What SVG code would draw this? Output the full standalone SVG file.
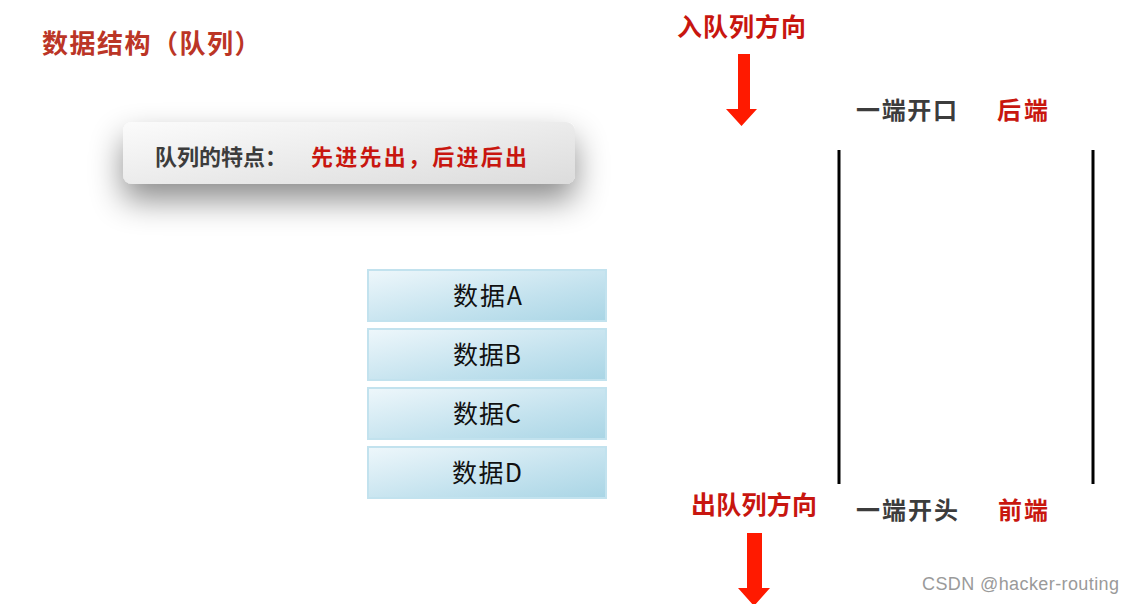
<svg xmlns="http://www.w3.org/2000/svg" width="1134" height="604" viewBox="0 0 1134 604">
<style>
.cn{font-family:"Noto Sans CJK SC","Liberation Sans",sans-serif}
.b{font-weight:bold}
.red{fill:#c8160f}
.gray{fill:#3c3c3c}
.box{fill:url(#boxg);stroke:#c2e2ee;stroke-width:2}
.bt{font-family:"Noto Sans CJK SC","DejaVu Sans",sans-serif;font-size:25px;fill:#111}
.arr{fill:#ff1a00}
.wall{stroke:#000;stroke-width:3}
</style>
<defs>
<linearGradient id="boxg" x1="0" y1="0" x2="1" y2="1">
<stop offset="0" stop-color="#eef7fb"/>
<stop offset="0.6" stop-color="#c3e2ee"/>
<stop offset="1" stop-color="#a9d5e5"/>
</linearGradient>
<linearGradient id="cardg" x1="0" y1="0" x2="1" y2="1">
<stop offset="0" stop-color="#fbfbfb"/>
<stop offset="1" stop-color="#dcdcdc"/>
</linearGradient>
<filter id="sh" x="-20%" y="-60%" width="140%" height="300%">
<feDropShadow dx="0" dy="16" stdDeviation="16" flood-color="#000" flood-opacity="0.45"/>
</filter>
</defs>
<rect width="1134" height="604" fill="#fff"/>
<g id="title">
<text x="42" y="53" class="cn b" font-size="26" fill="#bb3526" letter-spacing="1.5">数据结构（队列）</text>
</g>
<g id="card">
<rect x="123" y="122" width="452" height="62" rx="9" fill="url(#cardg)" filter="url(#sh)"/>
<text x="155" y="165" class="cn b gray" font-size="22" textLength="132" lengthAdjust="spacing">队列的特点：</text>
<text x="311" y="165" class="cn b red" font-size="22" textLength="216" lengthAdjust="spacing">先进先出，后进后出</text>
</g>
<g id="dataA"><rect class="box" x="368" y="270" width="238" height="51"/><text class="bt" x="453" y="305" textLength="69" lengthAdjust="spacing">数据A</text></g>
<g id="dataB"><rect class="box" x="368" y="329" width="238" height="51"/><text class="bt" x="453" y="364" textLength="68" lengthAdjust="spacing">数据B</text></g>
<g id="dataC"><rect class="box" x="368" y="388" width="238" height="51"/><text class="bt" x="453" y="423" textLength="68" lengthAdjust="spacing">数据C</text></g>
<g id="dataD"><rect class="box" x="368" y="447" width="238" height="51"/><text class="bt" x="452" y="482" textLength="70" lengthAdjust="spacing">数据D</text></g>
<g id="enqueue">
<text x="677" y="36" class="cn b red" font-size="25" textLength="129" lengthAdjust="spacing">入队列方向</text>
<polygon class="arr" points="738,54 750,54 750,109 757,109 741.5,126 726,109 738,109"/>
</g>
<g id="queue">
<line class="wall" x1="839" y1="150" x2="839" y2="484"/>
<line class="wall" x1="1093" y1="150" x2="1093" y2="484"/>
<text x="856" y="119" class="cn b gray" font-size="24" textLength="101" lengthAdjust="spacing">一端开口</text>
<text x="997" y="119" class="cn b red" font-size="24" textLength="51" lengthAdjust="spacing">后端</text>
<text x="856" y="519" class="cn b gray" font-size="24" textLength="102" lengthAdjust="spacing">一端开头</text>
<text x="998" y="519" class="cn b red" font-size="24" textLength="50" lengthAdjust="spacing">前端</text>
</g>
<g id="dequeue">
<text x="691" y="514" class="cn b red" font-size="25" textLength="126" lengthAdjust="spacing">出队列方向</text>
<polygon class="arr" points="747,533 762,533 762,588 770,588 754,606 738,588 747,588"/>
</g>
<text x="922" y="590" font-family="Liberation Sans, sans-serif" font-size="18" fill="#9a9a9a" textLength="197">CSDN @hacker-routing</text>
</svg>
